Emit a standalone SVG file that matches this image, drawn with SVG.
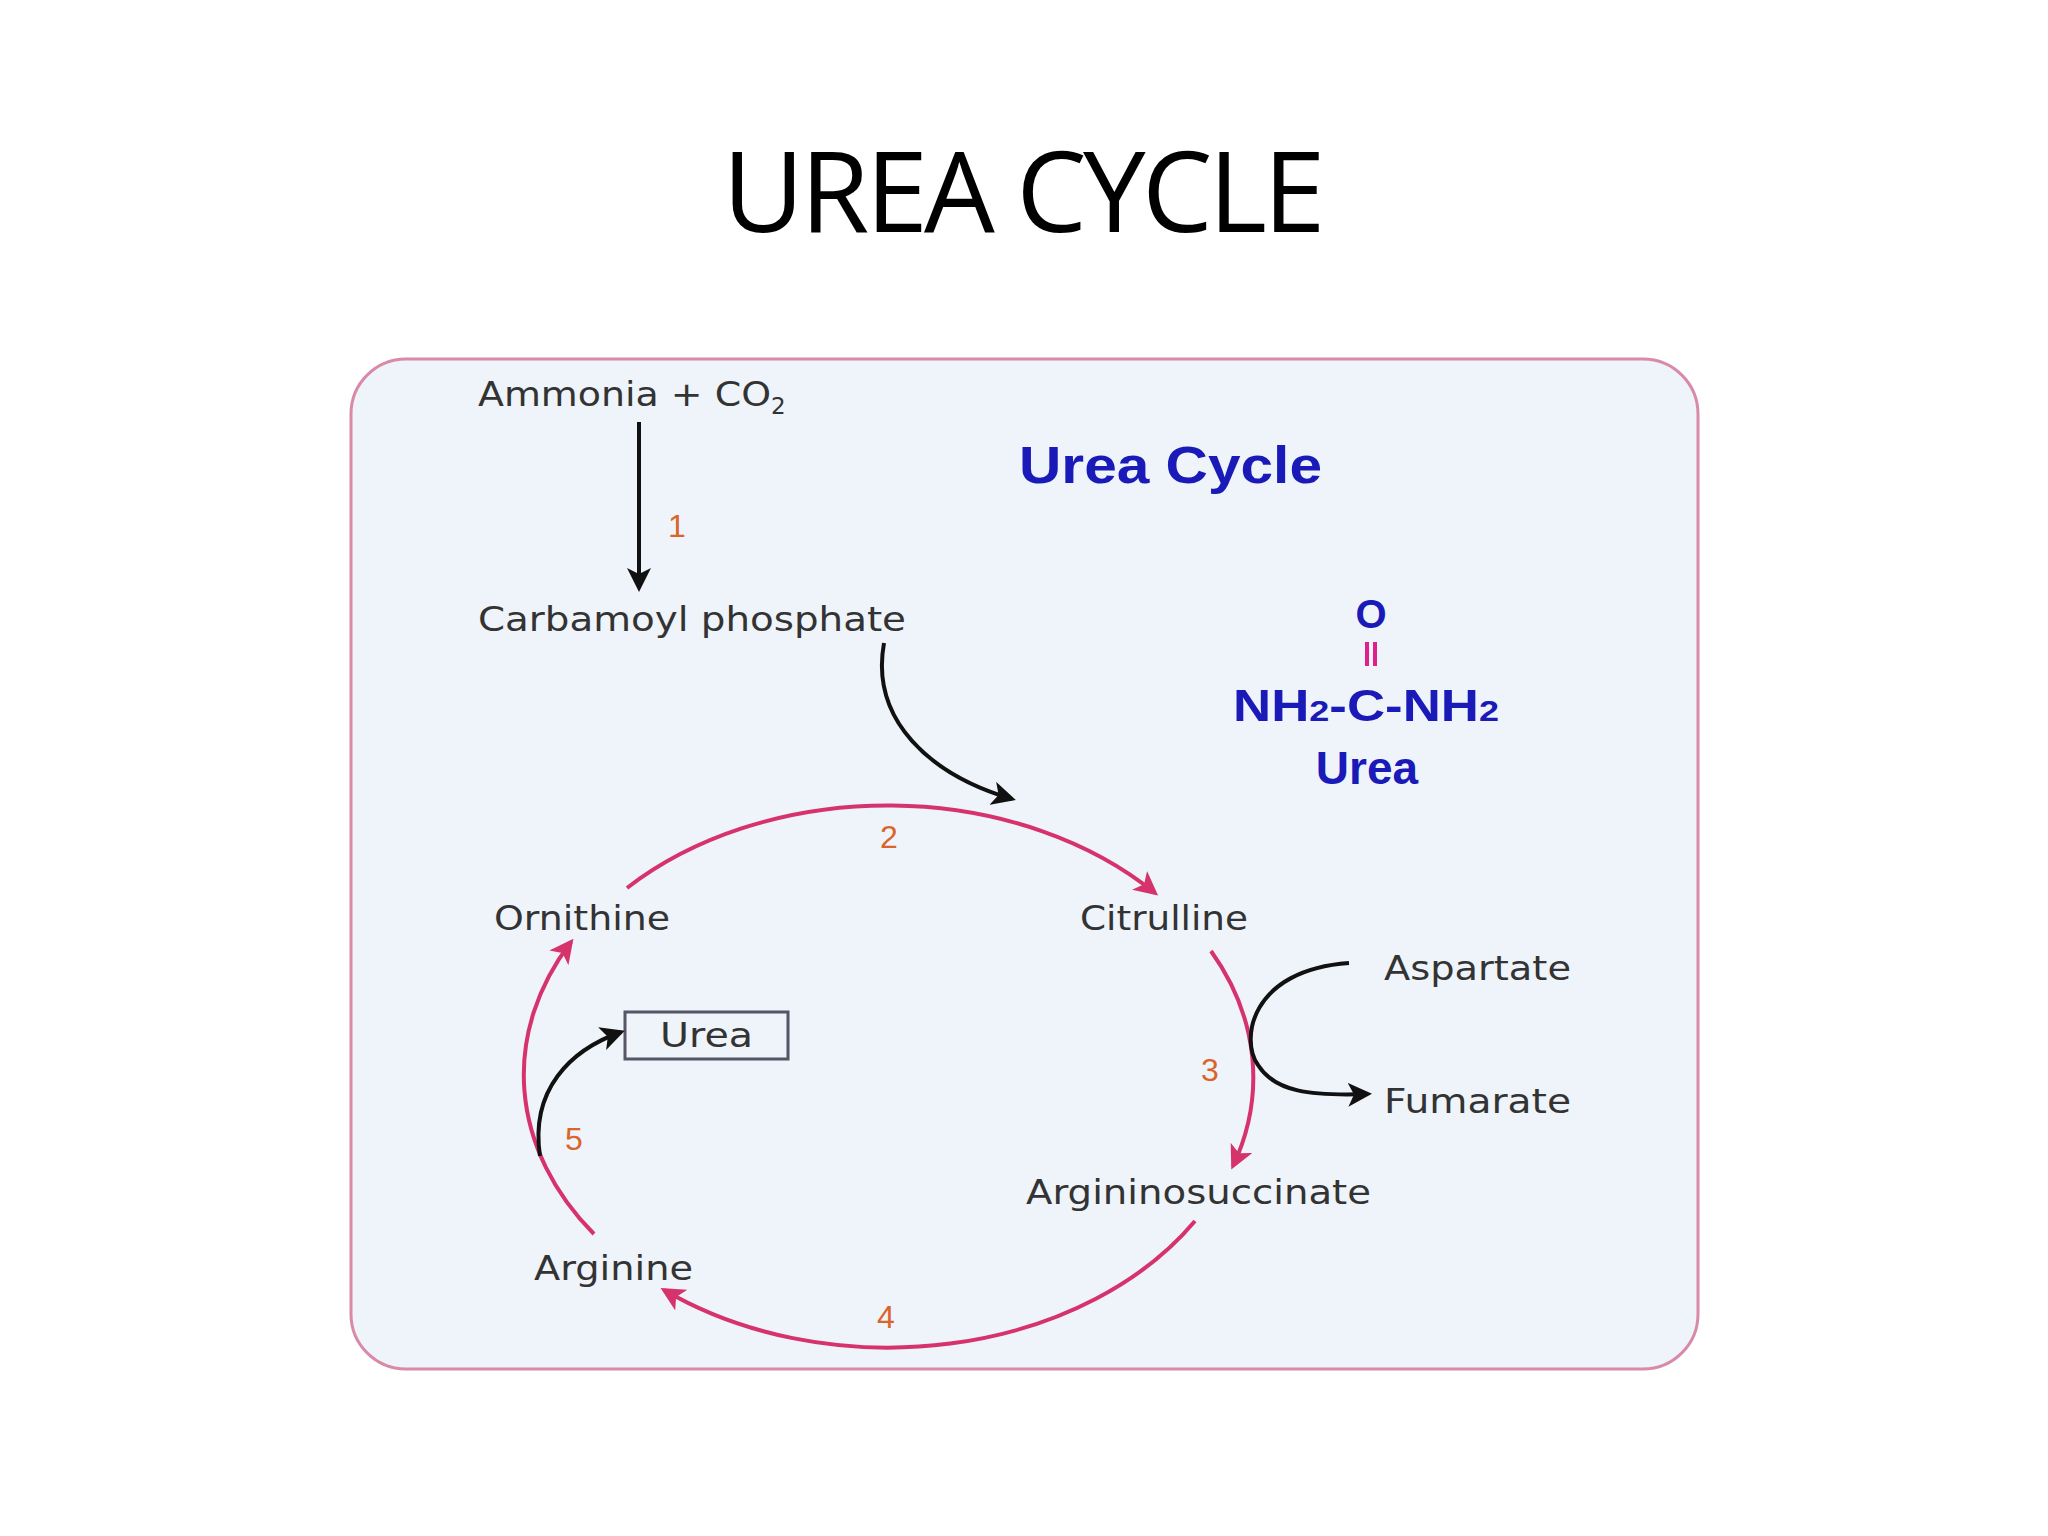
<svg xmlns="http://www.w3.org/2000/svg" width="2048" height="1536" viewBox="0 0 2048 1536">
<defs>
<marker id="mk" markerWidth="6" markerHeight="6" refX="5" refY="3" orient="auto" markerUnits="strokeWidth"><path d="M0,0 L6,3 L0,6 L1.5,3 Z" fill="#111"/></marker>
<marker id="mp" markerWidth="6" markerHeight="6" refX="5" refY="3" orient="auto" markerUnits="strokeWidth"><path d="M0,0 L6,3 L0,6 L1.5,3 Z" fill="#d6336c"/></marker>
</defs>
<style>
.t{font-family:"DejaVu Sans",Verdana,sans-serif;font-size:33px;fill:#333}
.n{font-family:"Liberation Sans",Arial,sans-serif;font-size:32px;fill:#d9652a}
.b{font-family:"Liberation Sans",Arial,sans-serif;font-weight:bold;fill:#1a1ab8}
.k{fill:none;stroke:#111;stroke-width:4}
.p{fill:none;stroke:#d6336c;stroke-width:4}
</style>
<rect width="2048" height="1536" fill="#fff"/>
<text x="1024" y="232" text-anchor="middle" font-family="Open Sans, sans-serif" font-size="112" fill="#000" textLength="603">UREA CYCLE</text>
<rect x="351" y="359" width="1347" height="1010" rx="55" fill="#eef4fa" stroke="#d98aa8" stroke-width="3"/>
<g id="ammonia"><text class="t" x="478" y="406"><tspan textLength="293" lengthAdjust="spacingAndGlyphs">Ammonia + CO</tspan><tspan font-size="23" dy="8">2</tspan></text></g>
<g id="carbamoyl"><text class="t" x="478" y="631" textLength="428" lengthAdjust="spacingAndGlyphs">Carbamoyl phosphate</text></g>
<g id="title2"><text class="b" x="1019" y="483" font-size="52" textLength="303" lengthAdjust="spacingAndGlyphs">Urea Cycle</text></g>
<g id="formula">
<text class="b" x="1371" y="628" font-size="40" text-anchor="middle">O</text>
<rect x="1365" y="642" width="4" height="24" fill="#e0208a"/><rect x="1373" y="642" width="4" height="24" fill="#e0208a"/>
<text class="b" x="1233" y="721" font-size="44" textLength="266" lengthAdjust="spacingAndGlyphs">NH<tspan font-size="30">2</tspan>-C-NH<tspan font-size="30">2</tspan></text>
<text class="b" x="1367" y="784" font-size="46" text-anchor="middle">Urea</text>
</g>
<g id="ornithine"><text class="t" x="494" y="930" textLength="176" lengthAdjust="spacingAndGlyphs">Ornithine</text></g>
<g id="citrulline"><text class="t" x="1080" y="930" textLength="168" lengthAdjust="spacingAndGlyphs">Citrulline</text></g>
<g id="aspartate"><text class="t" x="1384" y="980" textLength="187" lengthAdjust="spacingAndGlyphs">Aspartate</text></g>
<g id="fumarate"><text class="t" x="1384" y="1113" textLength="187" lengthAdjust="spacingAndGlyphs">Fumarate</text></g>
<g id="argininosuccinate"><text class="t" x="1026" y="1204" textLength="345" lengthAdjust="spacingAndGlyphs">Argininosuccinate</text></g>
<g id="arginine"><text class="t" x="534" y="1280" textLength="159" lengthAdjust="spacingAndGlyphs">Arginine</text></g>
<g id="urea-box"><rect x="625" y="1012" width="163" height="47" fill="none" stroke="#556" stroke-width="3"/><text class="t" x="660" y="1047" textLength="93" lengthAdjust="spacingAndGlyphs">Urea</text></g>
<g id="labels">
<text class="n" x="668" y="537">1</text>
<text class="n" x="889" y="848" text-anchor="middle">2</text>
<text class="n" x="1210" y="1081" text-anchor="middle">3</text>
<text class="n" x="886" y="1328" text-anchor="middle">4</text>
<text class="n" x="574" y="1150" text-anchor="middle">5</text>
</g>
<g id="connectors">
<path class="k" d="M639,422 L639,588" marker-end="url(#mk)"/>
<path class="k" d="M884,643 C870,720 930,775 1012,799" marker-end="url(#mk)"/>
<path class="p" d="M627,888 A362 269 0 0 1 1155,893" marker-end="url(#mp)"/>
<path class="p" d="M1211,951 A362 269 0 0 1 1233,1166" marker-end="url(#mp)"/>
<path class="p" d="M1195,1221 A362 269 0 0 1 664,1290" marker-end="url(#mp)"/>
<path class="p" d="M594,1234 A362 269 0 0 1 571,942" marker-end="url(#mp)"/>
<path class="k" d="M540,1156 C530,1090 570,1050 621,1032" marker-end="url(#mk)"/>
<path class="k" d="M1349,963 C1250,970 1240,1040 1258,1065 C1275,1092 1310,1096 1368,1094" marker-end="url(#mk)"/>
</g>
</svg>
